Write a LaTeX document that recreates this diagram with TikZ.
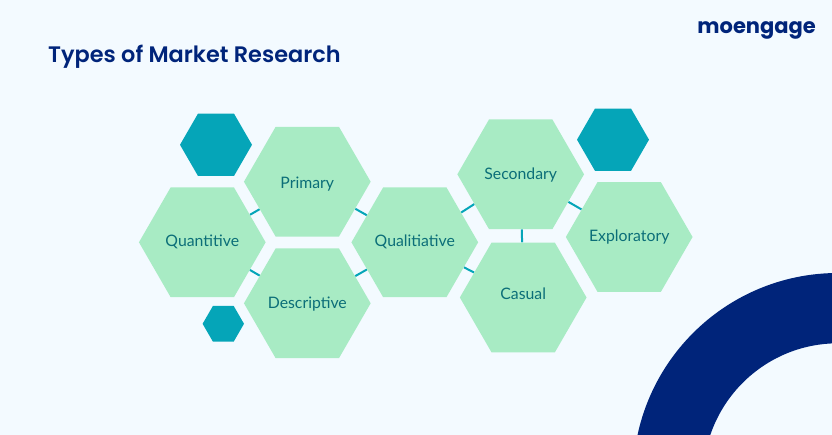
\documentclass[tikz,border=0pt]{standalone}
\usepackage{fontspec}
\setmainfont{Lato}
\newfontfamily\titlefont{Poppins SemiBold}
\newfontfamily\logofont{Poppins}
\usetikzlibrary{shapes.geometric,backgrounds}
\definecolor{pagebg}{HTML}{F3FAFF}
\definecolor{mint}{HTML}{A8EBC4}
\definecolor{tealdark}{HTML}{0B6E78}
\definecolor{tealhex}{HTML}{05A5B8}
\definecolor{navy}{HTML}{00247A}
\begin{document}
\begin{tikzpicture}[x=1pt,y=-1pt,
  hexbox/.style={regular polygon, regular polygon sides=6, fill=mint, draw=none, inner sep=0pt, inner xsep=-20pt, minimum size=126.7pt, text=tealdark, text depth=0pt, text height=9.6pt, font=\fontsize{15.8}{18}\selectfont},
  hexsmall/.style={regular polygon, regular polygon sides=6, fill=tealhex, draw=none, inner sep=0pt},
  link/.style={draw=tealhex, line width=2pt}]
\useasboundingbox (0,0) rectangle (832,435);
\node[hexsmall, minimum size=72pt] (topleft) at (216,144.8) {};
\node[hexsmall, minimum size=41.4pt] (lowleft) at (223.3,323.8) {};
\node[hexsmall, minimum size=72pt] (topright) at (613,139.7) {};
\node[hexbox, text height=8.8pt] (quant) at (202.3,242.3) {Quantitive};
\node[hexbox, text height=13.2pt] (primary) at (307.3,181.7) {Primary};
\node[hexbox, text height=10pt] (descr) at (307.3,303.3) {Descriptive};
\node[hexbox, text height=8.8pt] (qual) at (414.8,242.3) {Qualitiative};
\node[hexbox, text height=10pt] (second) at (520.7,174.3) {Secondary};
\node[hexbox, text height=3.6pt] (casual) at (523.2,297.5) {Casual};
\node[hexbox, text height=9.4pt] (explor) at (629.2,237) {Exploratory};
\node[anchor=base west, inner sep=0pt, text=navy, font=\titlefont\fontsize{22.4}{26}\selectfont] (title) at (48,62.7) {Types of Market Research};
\node[anchor=base east, inner sep=0pt, text=navy, font=\logofont\bfseries\fontsize{21}{24}\selectfont] (logo) at (816,33.3) {moengage};
\begin{scope}[on background layer]
\fill[pagebg] (0,0) rectangle (832,435);
\begin{scope}
\clip (0,0) rectangle (832,435);
\draw[navy, line width=70.3pt] (838,478) circle[radius=169.85pt];
\end{scope}
\draw[link] (quant) -- (primary);
\draw[link] (quant) -- (descr);
\draw[link] (primary) -- (qual);
\draw[link] (descr) -- (qual);
\draw[link] (qual) -- (second);
\draw[link] (qual) -- (casual);
\draw[link] (second) -- (casual);
\draw[link] (second) -- (explor);
\end{scope}
\end{tikzpicture}
\end{document}
